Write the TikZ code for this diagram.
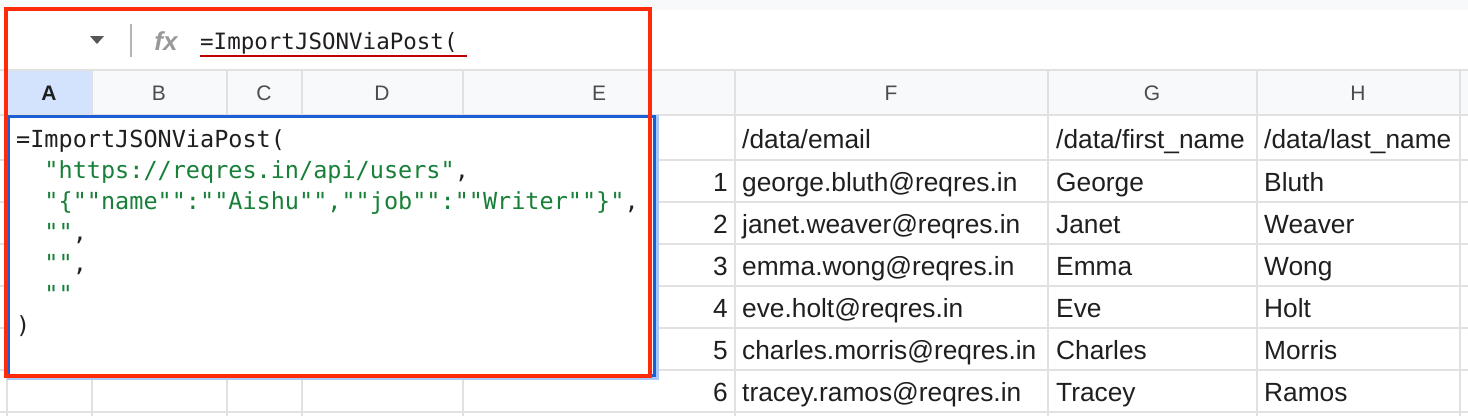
\documentclass[tikz,border=0pt]{standalone}
\usepackage{fontspec}
\setmainfont{Liberation Sans}
\newfontfamily\monof{DejaVu Sans Mono}
\definecolor{gridc}{HTML}{E1E1E1}
\definecolor{hdrbg}{HTML}{F8F9FA}
\definecolor{selbg}{HTML}{D3E3FD}
\definecolor{redb}{HTML}{FF2A0A}
\definecolor{blueb}{HTML}{1A5FD6}
\definecolor{lblue}{HTML}{A8C7FA}
\definecolor{grn}{HTML}{188038}
\definecolor{txt}{HTML}{1F1F1F}
\begin{document}
\begin{tikzpicture}[x=1pt,y=-1pt,
  cell/.style={anchor=base west,inner sep=0pt,font=\fontsize{26.3}{26.3}\selectfont,text=txt},
  num/.style={anchor=base east,inner sep=0pt,font=\fontsize{26.3}{26.3}\selectfont,text=txt},
  hdr/.style={inner sep=0pt,font=\fontsize{21}{21}\selectfont,text=txt!80},
  code/.style={anchor=base west,inner sep=0pt,font=\monof\fontsize{23.5}{23.5}\selectfont,text=txt},
  gcode/.style={code,text=grn}]
\useasboundingbox (0,0) rectangle (1468,416);
\fill[white] (0,0) rectangle (1468,416);
\fill[hdrbg] (0,0) rectangle (1468,10);
% column header row
\fill[hdrbg] (0,70) rectangle (1468,115);
\fill[selbg] (7,70) rectangle (92,115);
% grid
\foreach \y in {70,115,160,202,244,286,328,370,412}
  \draw[gridc,line width=1.5] (0,\y) -- (1468,\y);
\foreach \x in {7,92,227,302,463,735,1048,1257,1460}
  \draw[gridc,line width=1.5] (\x,70) -- (\x,416);
% formula bar
\fill[white] (7,10) rectangle (650,69);
\fill[txt!75] (90,36) -- (104,36) -- (97,44) -- cycle;
\draw[gridc!80!black,line width=1.2] (131,24) -- (131,57);
\node[inner sep=0pt,font=\bfseries\itshape\fontsize{26}{26}\selectfont,text=gray!80] (fx) at (166,41) {fx};
\node[code,font=\monof\fontsize{22.5}{22.5}\selectfont] (fb) at (200,49) {=ImportJSONViaPost(};
\draw[red!75!black,line width=1.2] (200,56) -- (467,56);
% column headers
\node[hdr,font=\bfseries\fontsize{21}{21}\selectfont,text=txt] (hA) at (49,93) {A};
\node[hdr] (hB) at (159,93) {B};
\node[hdr] (hC) at (264,93) {C};
\node[hdr] (hD) at (382,93) {D};
\node[hdr] (hE) at (599,93) {E};
\node[hdr] (hF) at (891,93) {F};
\node[hdr] (hG) at (1152,93) {G};
\node[hdr] (hH) at (1358,93) {H};
% editor cell
\fill[white] (9,117) rectangle (654,376);
\draw[lblue,line width=3] (8,116) rectangle (657,378);
\draw[blueb,line width=3] (8,116) rectangle (654,375);
\node[code] (c1) at (16,147) {=ImportJSONViaPost(};
\node[gcode] (c2) at (16,178) {\ \ "https://reqres.in/api/users"\textcolor{txt}{,}};
\node[gcode] (c3) at (16,209) {\ \ "\{""name"":""Aishu"",""job"":""Writer""\}"\textcolor{txt}{,}};
\node[gcode] (c4) at (16,240) {\ \ ""\textcolor{txt}{,}};
\node[gcode] (c5) at (16,271) {\ \ ""\textcolor{txt}{,}};
\node[gcode] (c6) at (16,302) {\ \ ""};
\node[code] (c7) at (16,333) {)};
\draw[redb,line width=4] (6,9) rectangle (650,376);
% data
\node[cell] (f0) at (742,148) {/data/email};
\node[cell] (g0) at (1056,148) {/data/first\_name};
\node[cell] (h0) at (1264,148) {/data/last\_name};
\foreach \i/\e/\f/\l [evaluate=\i as \yy using 191+42*(\i-1)] in
 {1/george.bluth@reqres.in/George/Bluth,2/janet.weaver@reqres.in/Janet/Weaver,
  3/emma.wong@reqres.in/Emma/Wong,4/eve.holt@reqres.in/Eve/Holt,
  5/charles.morris@reqres.in/Charles/Morris,6/tracey.ramos@reqres.in/Tracey/Ramos}{
  \node[num] (n\i) at (728,\yy) {\i};
  \node[cell] (e\i) at (742,\yy) {\e};
  \node[cell] (fn\i) at (1056,\yy) {\f};
  \node[cell] (ln\i) at (1264,\yy) {\l};
}
\end{tikzpicture}
\end{document}
